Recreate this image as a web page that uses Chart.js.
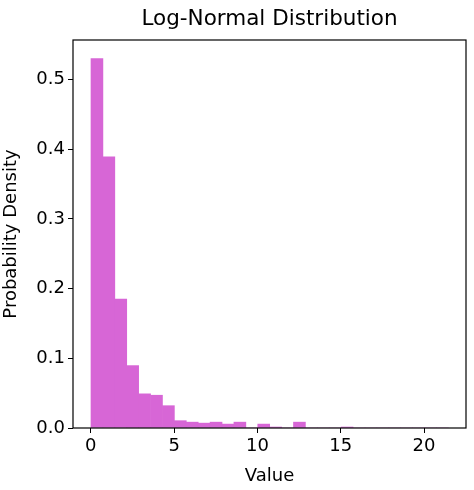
<!DOCTYPE html>
<html>
<head>
<meta charset="utf-8">
<script src="https://cdn.jsdelivr.net/npm/chart.js@4/dist/chart.umd.min.js"></script>
<style>
  html, body { margin: 0; padding: 0; background: #fff; }
  #wrap { width: 474px; height: 490px; }
</style>
</head>
<body>
<div id="wrap"><canvas id="myChart" width="474" height="490"></canvas></div>
<script>
// histogram bins (log-normal sample), 30 bins from ~0 to ~21.45
const binStart = 0.01;
const binWidth = 0.715;
const densities = [
  0.530, 0.389, 0.185, 0.0895, 0.049, 0.047, 0.032, 0.0105, 0.0084, 0.007,
  0.0084, 0.0056, 0.0084, 0, 0.0056, 0.0014, 0, 0.0084, 0, 0,
  0, 0.0014, 0, 0, 0, 0, 0, 0, 0, 0
];
const xTicks = [0, 5, 10, 15, 20];
const yTicks = [0, 0.1, 0.2, 0.3, 0.4, 0.5];

const titleText = 'Log-Normal Distribution';
const xLabel = 'Value';
const yLabel = 'Probability Density';

const font = 'DejaVu Sans';

// build {x, y} points at bin centres
const points = densities.map((d, i) => ({ x: binStart + binWidth * (i + 0.5), y: d }));

// black frame on all four sides like matplotlib spines
const frame = {
  id: 'frame',
  afterDraw(chart) {
    const a = chart.chartArea;
    const c = chart.ctx;
    c.save();
    c.strokeStyle = '#000';
    c.lineWidth = 1.2;
    c.strokeRect(a.left, a.top, a.right - a.left, a.bottom - a.top);
    c.restore();
  }
};

const ctx = document.getElementById('myChart').getContext('2d');
const chart = new Chart(ctx, {
  type: 'bar',
  data: {
    datasets: [{
      data: points,
      backgroundColor: 'rgb(215, 102, 214)',
      borderWidth: 0,
      barPercentage: 1,
      categoryPercentage: 1
    }]
  },
  options: {
    responsive: false,
    animation: false,
    layout: { padding: { left: 0, right: 8, top: 0, bottom: 0 } },
    plugins: {
      legend: { display: false },
      tooltip: { enabled: false },
      title: {
        display: true,
        text: titleText,
        fullSize: false,
        color: '#000',
        font: { family: font, size: 21.5, weight: 'normal' },
        padding: { top: 7, bottom: 7.2 }
      }
    },
    scales: {
      x: {
        type: 'linear',
        offset: false,
        min: -1.07,
        max: 22.52,
        afterBuildTicks: s => { s.ticks = xTicks.map(v => ({ value: v })); },
        afterFit: s => { s.height = 62; },
        grid: { display: true, drawOnChartArea: false, drawTicks: true, tickLength: 5, color: '#000', offset: false },
        border: { display: false },
        ticks: { color: '#000', font: { family: font, size: 18 }, padding: 3, maxRotation: 0 },
        title: { display: true, text: xLabel, color: '#000', font: { family: font, size: 18 }, padding: { top: 2, bottom: 3 } }
      },
      y: {
        min: 0,
        max: 0.5565,
        afterBuildTicks: s => { s.ticks = yTicks.map(v => ({ value: v })); },
        afterFit: s => { s.width = 73; },
        grid: { display: true, drawOnChartArea: false, drawTicks: true, tickLength: 5, color: '#000' },
        border: { display: false },
        ticks: { color: '#000', font: { family: font, size: 18 }, padding: 3, callback: v => v.toFixed(1) },
        title: { display: true, text: yLabel, color: '#000', font: { family: font, size: 18 }, padding: { top: 1, bottom: 4 } }
      }
    }
  },
  plugins: [frame]
});
</script>
</body>
</html>
